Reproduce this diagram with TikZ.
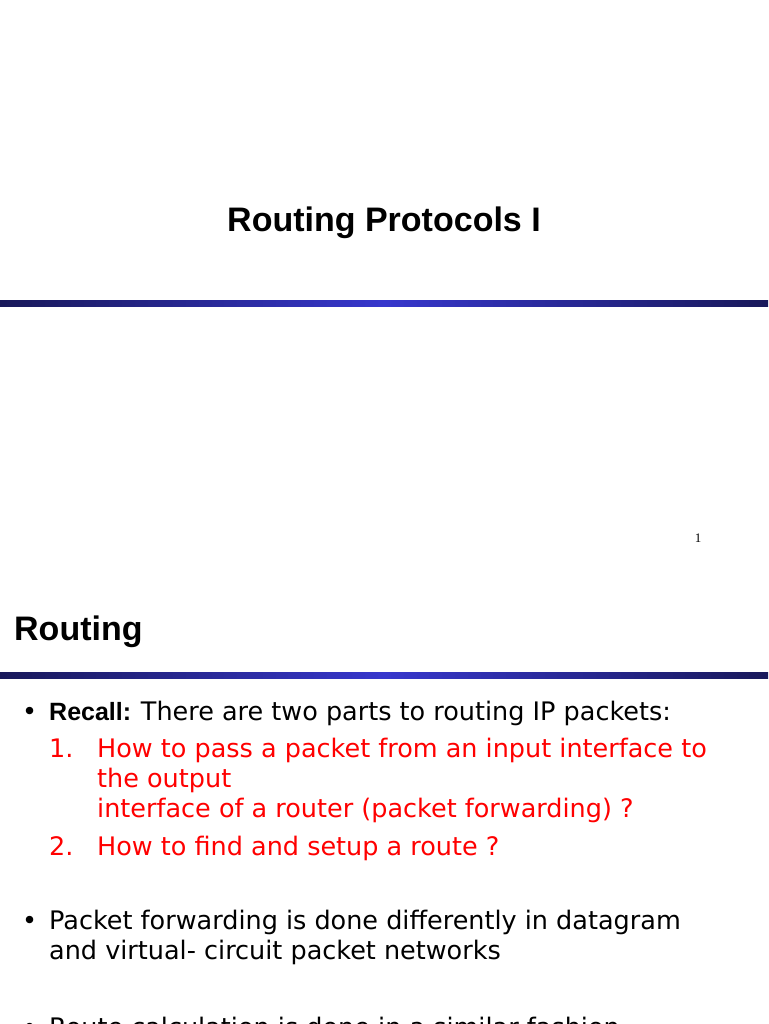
\documentclass[tikz,border=0pt]{standalone}
\usepackage{fontspec}
\setmainfont{DejaVu Sans}
\newfontfamily\arialf{Liberation Sans}
\newfontfamily\timesf{Liberation Serif}
\begin{document}
\begin{tikzpicture}[x=1pt,y=-1pt,
  txt/.style={anchor=base west,inner sep=0pt,font=\fontsize{25.5}{30}\selectfont},
  red/.style={txt,text={rgb,255:red,255;green,0;blue,0}},
  ttl/.style={inner sep=0pt,font=\arialf\bfseries\fontsize{34}{38}\selectfont}]
\useasboundingbox (0,0) rectangle (768,1024);
\clip (0,0) rectangle (768,1024);
\definecolor{navy}{RGB}{25,25,90}
\definecolor{bblue}{RGB}{55,55,205}
\shade[left color=navy,right color=navy,middle color=bblue] (0,300) rectangle (768,306);
\shade[left color=navy,right color=navy,middle color=bblue] (0,672) rectangle (768,678);
\node[ttl,anchor=base] (t1) at (384,232) {Routing Protocols I};
\node[inner sep=0pt,anchor=base,font=\timesf\fontsize{13}{15}\selectfont] (pg) at (698,542) {1};
\node[ttl,anchor=base west] (t2) at (14,640) {Routing};
\node[txt] (b1) at (22,720) {•};
\node[txt] (l1) at (49,720) {{\arialf\bfseries\fontsize{25}{28}\selectfont Recall:}\hspace{-1pt} There are two parts to routing IP packets:};
\node[red] (n1) at (49,757) {1.};
\node[red] (i1) at (97,757) {How to pass a packet from an input interface to};
\node[red] (i1b) at (97,787) {the output};
\node[red] (i1c) at (97,817) {interface of a router (packet forwarding) ?};
\node[red] (n2) at (49,855) {2.};
\node[red] (i2) at (97,855) {How to find and setup a route ?};
\node[txt] (b2) at (22,929) {•};
\node[txt] (l2) at (49,929) {Packet forwarding is done differently in datagram};
\node[txt] (l2b) at (49,959) {and virtual- circuit packet networks};
\node[txt] (b3) at (22,1036) {•};
\node[txt] (l3) at (49,1036) {Route calculation is done in a similar fashion};
\end{tikzpicture}
\end{document}
